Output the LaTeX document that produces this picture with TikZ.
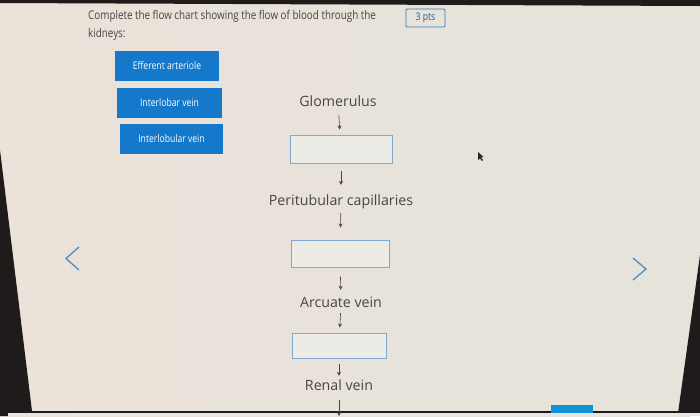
\documentclass[tikz,border=0pt]{standalone}
\usepackage{fontspec}
\setmainfont{Open Sans}
\newfontfamily\narrow[FakeStretch=0.82]{Open Sans}
\usetikzlibrary{arrows.meta,positioning}
\definecolor[named]{ScreenL}{HTML}{EBE2D9}
\definecolor[named]{ScreenR}{HTML}{E6E3DB}
\definecolor[named]{Frame}{HTML}{1F1B1B}
\definecolor[named]{Desk}{HTML}{A8763F}
\definecolor[named]{Button}{HTML}{1478CB}
\definecolor[named]{Outline}{HTML}{7FAAD0}
\definecolor[named]{Ink}{HTML}{474545}
\definecolor[named]{Chevron}{HTML}{4C8EC3}
\tikzset{answer/.style ={
        fill=Button,
        text=white,
        font=\narrow\fontsize{10.5}{12}\selectfont,
        minimum height=30,
        inner sep=0pt,
    },
    blank/.style={
        draw=Outline,
        line width=1pt,
        fill=ScreenR!70!white,
        inner sep=0pt,
    },
    label/.style={
        text=Ink,
        font=\fontsize{14.2}{17}\selectfont,
        inner sep=0pt,
        text height=10.5pt,
        text depth=3.5pt,
    },
    flow/.style ={
        draw=Ink,
        line width=0.6pt,
        -{Stealth[length=4pt,width=4pt]},
    },
    chevron/.style ={
        draw=Chevron,
        line width=1.3pt,
    }}
\begin{document}
\begin{tikzpicture}[x=1pt,y=-1pt]
    \useasboundingbox (0,0) rectangle (700,416);
    \fill[ScreenR] (0,0) rectangle (700,416);
    \shade[left color=ScreenL, right color=ScreenR] (0,0) rectangle (690,416);
    % monitor frame
    \fill[Frame] (0,0) -- (700,0) -- (700,6) -- (0,3) -- cycle;
    \fill[Desk] (0,360) -- (8,360) -- (8,416) -- (0,416) -- cycle;
    \fill[Frame] (0,150) -- (32,411) -- (700,411) -- (700,413) -- (8,413) -- (8,416) -- (0,416) -- cycle;
    \fill[Frame] (700,255) -- (678,413) -- (700,413) -- cycle;
    \fill[gray!20] (8,413) rectangle (700,416);

    \node[anchor=north west, text=Ink, align=left, inner sep=0pt,
          font=\narrow\fontsize{12}{18}\selectfont] (question) at (88,10)
        {Complete the flow chart showing the flow of blood through the\\kidneys:};
    \node[draw=Button!70!gray, rounded corners=1pt, line width=0.8pt, text=Button!80!black,
          font=\narrow\fontsize{10.5}{12}\selectfont, minimum width=39, minimum height=18,
          inner sep=0pt] (points) at (425.5,18) {3 pts};

    \node[answer, minimum width=104] (efferent) at (167,66) {Efferent arteriole};
    \node[answer, minimum width=105] (interlobar) at (169.5,103) {Interlobar vein};
    \node[answer, minimum width=103] (interlobular) at (171.5,139) {Interlobular vein};

    \node[label] (glom) at (338,102.5) {Glomerulus};
    \node[blank, minimum width=102, minimum height=28] (gap1) at (341,149) {};
    \node[label] (peri) at (341,201.5) {Peritubular capillaries};
    \node[blank, minimum width=98, minimum height=27] (gap2) at (340,253.5) {};
    \node[label] (arcuate) at (341,303.5) {Arcuate vein};
    \node[blank, minimum width=94, minimum height=25] (gap3) at (339,345.5) {};
    \node[label] (renal) at (339,386.5) {Renal vein};
    \coordinate (out) at (339,416);

    \draw[flow, shorten <=5.5pt, shorten >=5pt] (glom) -- (gap1);
    \draw[flow, shorten <=7pt, shorten >=9.5pt] (gap1) -- (peri);
    \draw[flow, shorten <=4.5pt, shorten >=12pt] (peri) -- (gap2);
    \draw[flow, shorten <=9pt, shorten >=6.5pt] (gap2) -- (arcuate);
    \draw[flow, shorten <=2.5pt, shorten >=5pt] (arcuate) -- (gap3);
    \draw[flow, shorten <=5pt, shorten >=3.5pt] (gap3) -- (renal);
    \draw[flow, shorten <=6.5pt] (renal) -- (out);

    \draw[chevron] (79,247) -- (66,258.5) -- (79,270);
    \draw[chevron] (633,258) -- (646,269) -- (633,280);

    % pointer and cut-off button
    \fill[black!85] (478,152) -- (478,160) -- (480,158.5) -- (482,161) -- (483,160) -- (481,157.5) -- (483.5,157) -- cycle;
    \fill[Button!80!cyan] (551,405) rectangle (593,413);
\end{tikzpicture}
\end{document}
